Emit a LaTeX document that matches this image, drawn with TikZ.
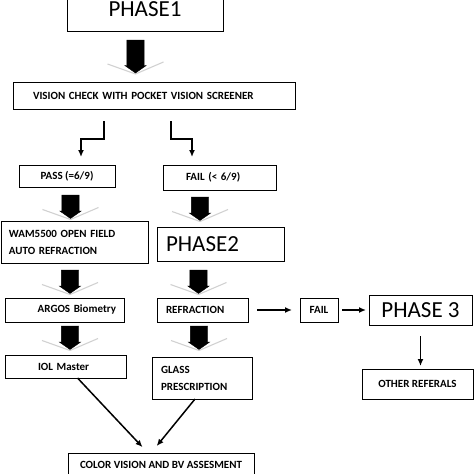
\documentclass[tikz,border=0pt]{standalone}
\usepackage{fontspec}
\setmainfont{Carlito}
\usetikzlibrary{positioning,arrows.meta,shapes.arrows}

\begin{document}
\begin{tikzpicture}[
>={Latex[length=7pt,width=6pt]},
box/.style={
draw,
line width=0.9pt,
inner sep=0pt,
outer sep=0pt,
align=center,
font=\fontsize{11}{17}\selectfont\bfseries
},
bigbox/.style={
box,
font=\fontsize{23}{26}\selectfont
},
bigarrow/.style={
single arrow,
shape border rotate=270,
draw=black,
fill=black,
inner sep=8.5pt,
outer sep=0pt,
minimum width=21pt,
single arrow head extend=2pt,
single arrow tip angle=110,
anchor=tail,
append after command={\pgfextra{\draw[black!18,line width=1.1pt]
([xshift=-28pt,yshift=9pt]\tikzlastnode.tip) -- ([yshift=-1pt]\tikzlastnode.tip)
-- ([xshift=28pt,yshift=11pt]\tikzlastnode.tip);}}
},
flow/.style={
->,
line width=1.5pt
}
]

\useasboundingbox (0,0) rectangle (474pt,-474pt);

%%%%%%%%%%%%%%%%%%%%%%%%%%%%%%%%%%%%%%%%%%%%%
% Phase 1
%%%%%%%%%%%%%%%%%%%%%%%%%%%%%%%%%%%%%%%%%%%%%

\node[bigbox,minimum width=156pt,minimum height=43pt,anchor=north west] (phase1)
at (67pt,12pt) {PHASE1};

\node[box,text width=242pt,inner xsep=20pt,minimum height=27pt,align=left,
below right=51pt and -54pt of phase1.south west] (vision)
{VISION CHECK WITH POCKET VISION SCREENER};

\node[box,minimum width=96pt,minimum height=22pt,
below right=56pt and 6pt of vision.south west] (pass)
{PASS (=6/9)};

\node[box,text width=67pt,inner xsep=23pt,minimum height=25pt,align=left,
right=48pt of pass.north east,anchor=north west] (fail)
{FAIL (< 6/9)};

%%%%%%%%%%%%%%%%%%%%%%%%%%%%%%%%%%%%%%%%%%%%%
% Pass branch
%%%%%%%%%%%%%%%%%%%%%%%%%%%%%%%%%%%%%%%%%%%%%

\node[box,text width=131pt,inner xsep=8pt,minimum height=42pt,align=left,
below right=34pt and -18pt of pass.south west] (wam)
{WAM5500 OPEN FIELD\\AUTO REFRACTION};

\node[box,text width=103pt,inner xsep=8pt,minimum height=24pt,align=right,
below right=35pt and 4pt of wam.south west] (argos)
{ARGOS Biometry};

\node[box,text width=55pt,inner xsep=33pt,minimum height=23pt,align=left,
below=33pt of argos.south west,anchor=north west] (iol)
{IOL Master};

%%%%%%%%%%%%%%%%%%%%%%%%%%%%%%%%%%%%%%%%%%%%%
% Fail branch
%%%%%%%%%%%%%%%%%%%%%%%%%%%%%%%%%%%%%%%%%%%%%

\node[bigbox,text width=109pt,inner xsep=9pt,minimum height=34pt,align=left,
below right=37pt and -6pt of fail.south west] (phase2)
{PHASE2};

\node[box,text width=73pt,inner xsep=9pt,minimum height=24pt,align=left,
below=37pt of phase2.south west,anchor=north west] (refraction)
{REFRACTION};

\node[box,text width=82pt,inner xsep=9pt,minimum height=42pt,align=left,
below right=35pt and -5pt of refraction.south west] (glass)
{GLASS\\PRESCRIPTION};

\node[box,minimum width=38pt,minimum height=24pt,right=52pt of refraction] (failagain)
{FAIL};

\node[bigbox,minimum width=103pt,minimum height=30pt,right=31pt of failagain] (phase3)
{PHASE 3};

\node[box,minimum width=111pt,minimum height=30pt,below=44pt of phase3,xshift=-3pt] (referals)
{OTHER REFERALS};

\node[box,minimum width=186pt,minimum height=24pt,
below right=75pt and 63pt of iol.south west] (colour)
{COLOR VISION AND BV ASSESMENT};

%%%%%%%%%%%%%%%%%%%%%%%%%%%%%%%%%%%%%%%%%%%%%
% Block arrows
%%%%%%%%%%%%%%%%%%%%%%%%%%%%%%%%%%%%%%%%%%%%%

\node[bigarrow,minimum height=33pt] (arrphase1) at ([xshift=-9.5pt,yshift=-9pt]phase1.south) {};
\node[bigarrow,minimum height=19pt] (arrpass) at ([xshift=3.5pt,yshift=-8pt]pass.south) {};
\node[bigarrow,minimum height=18pt] (arrfail) at ([xshift=-19.5pt,yshift=-7pt]fail.south) {};
\node[bigarrow,minimum height=21pt] (arrwam) at ([xshift=-4.5pt,yshift=-7pt]wam.south) {};
\node[bigarrow,minimum height=20pt] (arrphase2) at ([xshift=-22pt,yshift=-9pt]phase2.south) {};
\node[bigarrow,minimum height=22pt] (arrargos) at ([xshift=5.5pt,yshift=-4pt]argos.south) {};
\node[bigarrow,minimum height=21pt] (arrrefr) at ([xshift=-3.5pt,yshift=-4pt]refraction.south) {};

%%%%%%%%%%%%%%%%%%%%%%%%%%%%%%%%%%%%%%%%%%%%%
% Connections
%%%%%%%%%%%%%%%%%%%%%%%%%%%%%%%%%%%%%%%%%%%%%

\draw[flow,shorten <=12pt,shorten >=8pt] ([xshift=-50pt]vision.south) -- ++(0,-30pt) -| ([xshift=14pt]pass.north);

\draw[flow,shorten <=12pt,shorten >=8pt] ([xshift=17pt]vision.south) -- ++(0,-30pt) -| ([xshift=-27.5pt]fail.north);

\draw[flow,shorten <=9pt,shorten >=8pt] (refraction)--(failagain);

\draw[flow,shorten <=4pt,shorten >=3pt] (failagain)--(phase3);

\draw[flow,shorten <=11pt,shorten >=3pt] (phase3.south)--(phase3.south |- referals.north);

\draw[flow,shorten >=8pt] ([xshift=12pt]iol.south)--([xshift=-13pt]colour.north);

\draw[flow,shorten >=9pt] ([xshift=-7pt]glass.south)--([xshift=-10pt]colour.north);

\end{tikzpicture}
\end{document}
